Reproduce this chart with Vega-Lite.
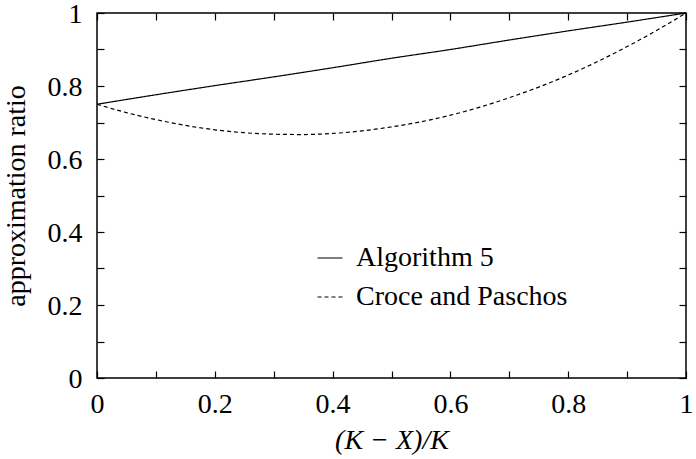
{
  "$schema": "https://vega.github.io/schema/vega-lite/v6.json",
  "width": 589,
  "height": 365,
  "autosize": {"type": "none"},
  "padding": {"left": 97, "top": 13, "right": 10, "bottom": 81},
  "background": "white",
  "config": {
    "view": {"stroke": "black", "strokeWidth": 1.5},
    "font": "Liberation Serif, DejaVu Serif, serif",
    "axis": {
      "domain": false,
      "grid": false,
      "labelFlush": false,
      "tickColor": "black",
      "tickSize": -7,
      "tickWidth": 1.2,
      "labelFont": "Liberation Serif, DejaVu Serif, serif",
      "labelFontSize": 28,
      "labelColor": "black",
      "titleFont": "Liberation Serif, DejaVu Serif, serif",
      "titleFontSize": 28,
      "titleFontWeight": "normal",
      "titleColor": "black"
    }
  },
  "data": {
    "values": [
      {"t": 0.0, "ratio": 0.75, "series": "Algorithm 5"},
      {"t": 0.1, "ratio": 0.776, "series": "Algorithm 5"},
      {"t": 0.2, "ratio": 0.801, "series": "Algorithm 5"},
      {"t": 0.3, "ratio": 0.825, "series": "Algorithm 5"},
      {"t": 0.4, "ratio": 0.85, "series": "Algorithm 5"},
      {"t": 0.5, "ratio": 0.876, "series": "Algorithm 5"},
      {"t": 0.6, "ratio": 0.9, "series": "Algorithm 5"},
      {"t": 0.7, "ratio": 0.926, "series": "Algorithm 5"},
      {"t": 0.8, "ratio": 0.951, "series": "Algorithm 5"},
      {"t": 0.9, "ratio": 0.975, "series": "Algorithm 5"},
      {"t": 1.0, "ratio": 1.0, "series": "Algorithm 5"},
      {"t": 0.0, "ratio": 0.75, "series": "Croce and Paschos"},
      {"t": 0.05, "ratio": 0.727, "series": "Croce and Paschos"},
      {"t": 0.1, "ratio": 0.708, "series": "Croce and Paschos"},
      {"t": 0.15, "ratio": 0.692, "series": "Croce and Paschos"},
      {"t": 0.2, "ratio": 0.68, "series": "Croce and Paschos"},
      {"t": 0.25, "ratio": 0.672, "series": "Croce and Paschos"},
      {"t": 0.3, "ratio": 0.668, "series": "Croce and Paschos"},
      {"t": 0.35, "ratio": 0.667, "series": "Croce and Paschos"},
      {"t": 0.4, "ratio": 0.67, "series": "Croce and Paschos"},
      {"t": 0.45, "ratio": 0.677, "series": "Croce and Paschos"},
      {"t": 0.5, "ratio": 0.688, "series": "Croce and Paschos"},
      {"t": 0.55, "ratio": 0.702, "series": "Croce and Paschos"},
      {"t": 0.6, "ratio": 0.72, "series": "Croce and Paschos"},
      {"t": 0.65, "ratio": 0.742, "series": "Croce and Paschos"},
      {"t": 0.7, "ratio": 0.768, "series": "Croce and Paschos"},
      {"t": 0.75, "ratio": 0.797, "series": "Croce and Paschos"},
      {"t": 0.8, "ratio": 0.83, "series": "Croce and Paschos"},
      {"t": 0.85, "ratio": 0.867, "series": "Croce and Paschos"},
      {"t": 0.9, "ratio": 0.908, "series": "Croce and Paschos"},
      {"t": 0.95, "ratio": 0.952, "series": "Croce and Paschos"},
      {"t": 1.0, "ratio": 1.0, "series": "Croce and Paschos"}
    ]
  },
  "layer": [
    {
      "mark": {"type": "line", "color": "black", "strokeWidth": 1.2, "interpolate": "monotone"},
      "encoding": {
        "x": {
          "field": "t", "type": "quantitative",
          "scale": {"domain": [0, 1], "nice": false},
          "axis": {
            "orient": "bottom",
            "values": [0, 0.1, 0.2, 0.3, 0.4, 0.5, 0.6, 0.7, 0.8, 0.9, 1],
            "labelExpr": "round(datum.value * 10) % 2 == 0 ? format(datum.value, '~g') : ''",
            "labelPadding": 19,
            "title": "(K − X)/K",
            "titleFontStyle": "italic",
            "titlePadding": 8
          }
        },
        "y": {
          "field": "ratio", "type": "quantitative",
          "scale": {"domain": [0, 1], "nice": false},
          "axis": {
            "orient": "left",
            "values": [0, 0.1, 0.2, 0.3, 0.4, 0.5, 0.6, 0.7, 0.8, 0.9, 1],
            "labelExpr": "round(datum.value * 10) % 2 == 0 ? format(datum.value, '~g') : ''",
            "labelPadding": 22,
            "labelOffset": 1,
            "title": "approximation ratio",
            "titlePadding": 17
          }
        },
        "strokeDash": {
          "field": "series", "type": "nominal",
          "scale": {"domain": ["Algorithm 5", "Croce and Paschos"], "range": [[1, 0], [4, 3]]},
          "legend": {
            "title": null,
            "orient": "none",
            "legendX": 219,
            "legendY": 231,
            "symbolType": "stroke",
            "symbolSize": 625,
            "symbolStrokeColor": "black",
            "symbolStrokeWidth": 1.2,
            "labelFont": "Liberation Serif, DejaVu Serif, serif",
            "labelFontSize": 28,
            "labelColor": "black",
            "labelLimit": 400,
            "labelOffset": 12,
            "rowPadding": 11
          }
        }
      }
    },
    {
      "mark": {"type": "line", "strokeOpacity": 0},
      "encoding": {
        "x": {
          "field": "t", "type": "quantitative",
          "axis": {
            "orient": "top",
            "values": [0, 0.1, 0.2, 0.3, 0.4, 0.5, 0.6, 0.7, 0.8, 0.9, 1],
            "labels": false,
            "title": null
          }
        },
        "y": {
          "field": "ratio", "type": "quantitative",
          "axis": {
            "orient": "right",
            "values": [0, 0.1, 0.2, 0.3, 0.4, 0.5, 0.6, 0.7, 0.8, 0.9, 1],
            "labels": false,
            "title": null
          }
        },
        "detail": {"field": "series"}
      }
    }
  ],
  "resolve": {"axis": {"x": "independent", "y": "independent"}}
}
